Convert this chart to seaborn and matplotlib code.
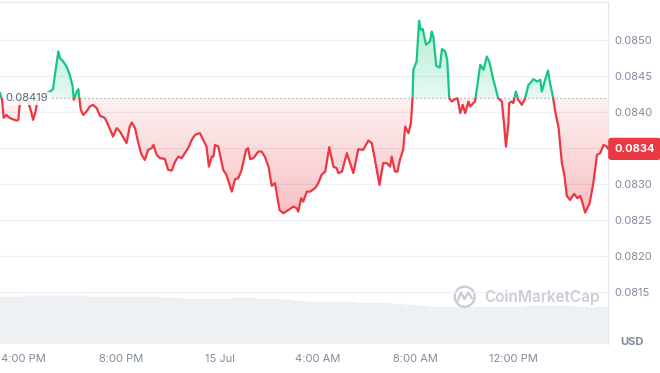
import numpy as np
import pandas as pd
import matplotlib
matplotlib.use("Agg")
import matplotlib.pyplot as plt
import matplotlib.dates as mdates
import matplotlib.colors as mcolors
import matplotlib.transforms as mtransforms
from matplotlib.patches import Rectangle, Ellipse
from matplotlib.path import Path
from matplotlib.lines import Line2D
import seaborn as sns

# ---------------- data ----------------
start_time = "2024-07-14 15:00"
minutes = [2, 7, 10, 11, 18, 22, 30, 43, 47, 49, 52, 60, 71, 79, 83, 87, 90, 94, 105, 114,
           124, 132, 136, 145, 149, 157, 165, 173, 180, 183, 186, 190, 194, 196, 200, 206, 214, 222, 230, 239,
           247, 255, 259, 267, 279, 288, 296, 312, 320, 325, 333, 341, 349, 357, 365, 374, 378, 386, 394, 406,
           414, 423, 431, 439, 447, 455, 463, 472, 480, 492, 500, 508, 514, 521, 525, 529, 537, 549, 557, 570,
           578, 586, 594, 605, 610, 615, 623, 635, 643, 651, 660, 668, 676, 687, 696, 709, 721, 729, 733, 740,
           745, 754, 762, 774, 782, 790, 799, 809, 819, 827, 831, 840, 852, 860, 868, 880, 892, 905, 913, 921,
           932, 941, 950, 958, 962, 970, 976, 982, 990, 995, 1003, 1009, 1013, 1015, 1023, 1029, 1033, 1038, 1046, 1056,
           1060, 1064, 1071, 1080, 1085, 1093, 1098, 1103, 1109, 1117, 1123, 1130, 1136, 1142, 1150, 1154, 1162, 1166, 1179, 1187,
           1195, 1201, 1211, 1223, 1232, 1237, 1242, 1248, 1250, 1256, 1260, 1266, 1272, 1281, 1289, 1297, 1305, 1309, 1318, 1326,
           1330, 1338, 1345, 1350, 1357, 1362, 1371, 1379, 1385, 1391, 1399, 1409, 1417, 1424, 1428, 1436, 1447, 1456, 1465, 1473,
           1481, 1489, 1492]
prices = [0.084268, 0.084171, 0.083990, 0.083921, 0.083962, 0.083935, 0.083907, 0.083883, 0.083893, 0.084032,
          0.084171, 0.084157, 0.084147, 0.083990, 0.083893, 0.083962, 0.084032, 0.084171, 0.084213, 0.084254,
          0.084286, 0.084319, 0.084494, 0.084842, 0.084750, 0.084703, 0.084633, 0.084518, 0.084356, 0.084171,
          0.084217, 0.084286, 0.084319, 0.084217, 0.084032, 0.083962, 0.084008, 0.084078, 0.084101, 0.084056,
          0.083949, 0.083931, 0.083917, 0.083824, 0.083661, 0.083778, 0.083731, 0.083569, 0.083800, 0.083856,
          0.083778, 0.083569, 0.083407, 0.083337, 0.083476, 0.083500, 0.083546, 0.083407, 0.083361, 0.083351,
          0.083199, 0.083189, 0.083314, 0.083383, 0.083361, 0.083431, 0.083500, 0.083615, 0.083685, 0.083708,
          0.083615, 0.083522, 0.083244, 0.083383, 0.083383, 0.083546, 0.083522, 0.083199, 0.083129, 0.082897,
          0.083069, 0.083083, 0.083199, 0.083476, 0.083500, 0.083347, 0.083361, 0.083453, 0.083453, 0.083383,
          0.083244, 0.082976, 0.083014, 0.082643, 0.082597, 0.082643, 0.082689, 0.082667, 0.082619, 0.082806,
          0.082758, 0.082897, 0.082897, 0.082944, 0.083014, 0.083129, 0.083175, 0.083514, 0.083244, 0.083222,
          0.083153, 0.083175, 0.083431, 0.083292, 0.083153, 0.083486, 0.083476, 0.083606, 0.083569, 0.083337,
          0.082990, 0.083292, 0.083292, 0.083244, 0.083383, 0.083175, 0.083175, 0.083337, 0.083476, 0.083800,
          0.083708, 0.083847, 0.084194, 0.084588, 0.084703, 0.085268, 0.085143, 0.085153, 0.084935, 0.084981,
          0.085119, 0.085050, 0.084643, 0.084619, 0.084875, 0.084842, 0.084726, 0.084194, 0.084147, 0.084180,
          0.084194, 0.083986, 0.084101, 0.083986, 0.084147, 0.084078, 0.084125, 0.084147, 0.084657, 0.084588,
          0.084772, 0.084703, 0.084449, 0.084194, 0.084147, 0.083847, 0.083522, 0.083847, 0.084125, 0.084147,
          0.084125, 0.084286, 0.084171, 0.084101, 0.084194, 0.084379, 0.084425, 0.084458, 0.084425, 0.084449,
          0.084286, 0.084449, 0.084578, 0.084403, 0.084217, 0.084032, 0.083778, 0.083292, 0.083129, 0.082838,
          0.082782, 0.082865, 0.082806, 0.082838, 0.082772, 0.082606, 0.082736, 0.083014, 0.083407, 0.083431,
          0.083546, 0.083522, 0.083490]
base_price = 0.08419
base_label = "0.08419"
last_label = "0.0834"

volume = [13.9, 13.9, 14.0, 14.0, 14.1, 14.1, 14.0, 13.9, 13.7, 13.7,
          13.7, 13.7, 13.7, 13.4, 13.4, 13.3, 13.3, 13.2, 13.2, 13.4,
          13.4, 13.2, 13.1, 13.0, 12.7, 12.4, 12.4, 12.3, 12.3, 12.2,
          12.2, 12.0, 11.8, 11.4, 11.2, 11.0, 10.9, 10.8, 10.8, 10.8,
          10.9, 11.0, 11.0, 11.1, 11.1, 11.1, 11.1, 11.0, 11.0, 11.0]
volume_bar_minutes = 30

x_tick_times = ["2024-07-14 16:00", "2024-07-14 20:00", "2024-07-15 00:00",
                "2024-07-15 04:00", "2024-07-15 08:00", "2024-07-15 12:00"]
x_tick_labels = ["4:00 PM", "8:00 PM", "15 Jul", "4:00 AM", "8:00 AM", "12:00 PM"]
y_ticks = [0.0815, 0.0820, 0.0825, 0.0830, 0.0835, 0.0840, 0.0845, 0.0850]
y_tick_labels = ["0.0815", "0.0820", "0.0825", "0.0830", "", "0.0840", "0.0845", "0.0850"]

# ---------------- style ----------------
sns.set_theme(style="white")
plt.rcParams["font.family"] = ["Inter", "DejaVu Sans"]

GREEN = "#16c784"
RED = "#ea3943"
AXIS_TXT = "#808a9d"
DARK_TXT = "#58667e"

t0 = pd.Timestamp(start_time)
times = t0 + pd.to_timedelta(minutes, unit="min")
xnum = mdates.date2num(times.values)
vol_times = t0 + pd.to_timedelta([i * volume_bar_minutes for i in range(len(volume))], unit="min")
vnum = mdates.date2num(vol_times.values)
prices_arr = np.array(prices)

fig = plt.figure(figsize=(6.6, 3.73), dpi=100)
ax = fig.add_axes([0.0, 0.0769, 0.9212, 0.9177])
axv = ax.twinx()
ax.set_zorder(axv.get_zorder() + 1)
ax.patch.set_visible(False)

# volume
axv.bar(vnum, volume, width=volume_bar_minutes / 1440, align="edge",
        color="#eef1f4", edgecolor="#e9ecf0", linewidth=0.3)
axv.set_ylim(0, 100)
axv.set_axis_off()

# gradient fills
poly = ax.fill_between(xnum, prices_arr, base_price, facecolor="none",
                       edgecolor="none", linewidth=0)
clip_path = Path.make_compound_path(*poly.get_paths())


def grad(color, y0, y1, a0, a1):
    n = 256
    arr = np.zeros((n, 1, 4))
    arr[..., :3] = mcolors.to_rgb(color)
    arr[:, 0, 3] = np.linspace(a0, a1, n)
    im = ax.imshow(arr, extent=[xnum[0], xnum[-1], y0, y1], origin="lower",
                   aspect="auto", interpolation="bilinear", zorder=1)
    im.set_clip_path(clip_path, transform=ax.transData)


grad(GREEN, base_price, prices_arr.max(), 0.11, 0.32)
grad(RED, prices_arr.min(), base_price, 0.32, 0.07)

# lines (green above base, red below)
sns.lineplot(x=xnum, y=prices_arr, ax=ax, color=GREEN, linewidth=1.6,
             estimator=None, sort=False, zorder=3)
line_g = ax.lines[-1]
sns.lineplot(x=xnum, y=prices_arr, ax=ax, color=RED, linewidth=1.6,
             estimator=None, sort=False, zorder=3)
line_r = ax.lines[-1]
for ln in (line_g, line_r):
    ln.set_solid_joinstyle("round")
line_g.set_clip_path(Rectangle((xnum[0] - 1, base_price), 3, 1, transform=ax.transData))
line_r.set_clip_path(Rectangle((xnum[0] - 1, base_price - 1), 3, 1, transform=ax.transData))

# baseline
ax.axhline(base_price, color="#9aa2b1", lw=0.9, ls=(0, (1, 2.2)), zorder=2)

# limits
ax.set_xlim(xnum[0], xnum[-1])
ax.set_ylim(0.080778, 0.085528)

# grid & spines
ax.set_yticks(y_ticks)
ax.set_yticklabels(y_tick_labels)
ax.yaxis.tick_right()
ax.grid(axis="y", color="#eef0f3", lw=0.9)
ax.grid(axis="x", visible=False)
ax.set_axisbelow(True)
for s in ("left", "bottom"):
    ax.spines[s].set_visible(False)
for s in ("top", "right"):
    ax.spines[s].set_visible(True)
    ax.spines[s].set_color("#e3e6eb")
    ax.spines[s].set_linewidth(0.9)

ax.set_xticks(mdates.date2num(pd.to_datetime(x_tick_times).values))
ax.set_xticklabels(x_tick_labels)
ax.tick_params(axis="x", length=0, pad=7, labelsize=8, labelcolor=AXIS_TXT)
ax.tick_params(axis="y", length=0, pad=4.5, labelsize=8, labelcolor=AXIS_TXT,
               labelright=True, labelleft=False)
ax.set_xlabel("")
ax.set_ylabel("")

# base label
ax.text(5.7 / 608, base_price, base_label, transform=mtransforms.blended_transform_factory(ax.transAxes, ax.transData),
        ha="left", va="center", fontsize=8, color=DARK_TXT, zorder=6,
        bbox=dict(boxstyle="square,pad=0.15", fc="white", ec="none", alpha=0.85))

# last price label
ax.text(1 + 6.3 / 608, prices_arr[-1], last_label,
        transform=mtransforms.blended_transform_factory(ax.transAxes, ax.transData),
        ha="left", va="center", fontsize=8, fontweight="bold", color="white", zorder=10,
        clip_on=False,
        bbox=dict(boxstyle="round,pad=0.55,rounding_size=0.3", fc=RED, ec="none"))

# USD
fig.text(620.7 / 660, 1 - 341.7 / 373, "USD", ha="left", va="center", fontsize=8,
         fontweight="bold", color=AXIS_TXT)

# watermark
WM = "#c9ced6"
fig.text(484 / 660, 1 - 297 / 373, "CoinMarketCap", ha="left", va="center",
         fontsize=11, fontweight="semibold", color=WM)
cx, cy = 464.7, 296.7
fig.add_artist(Ellipse((cx / 660, 1 - cy / 373), 20 / 660, 20 / 373,
                       transform=fig.transFigure, fill=False, ec=WM, lw=1.7))
wx = np.array([457.5, 461, 464.5, 468, 472])
wy = np.array([301, 292.5, 299, 292.5, 298.5])
fig.add_artist(Line2D(wx / 660, 1 - wy / 373, transform=fig.transFigure,
                      color=WM, lw=1.7, solid_joinstyle="round", solid_capstyle="round"))

fig.savefig("out.png", dpi=100)
